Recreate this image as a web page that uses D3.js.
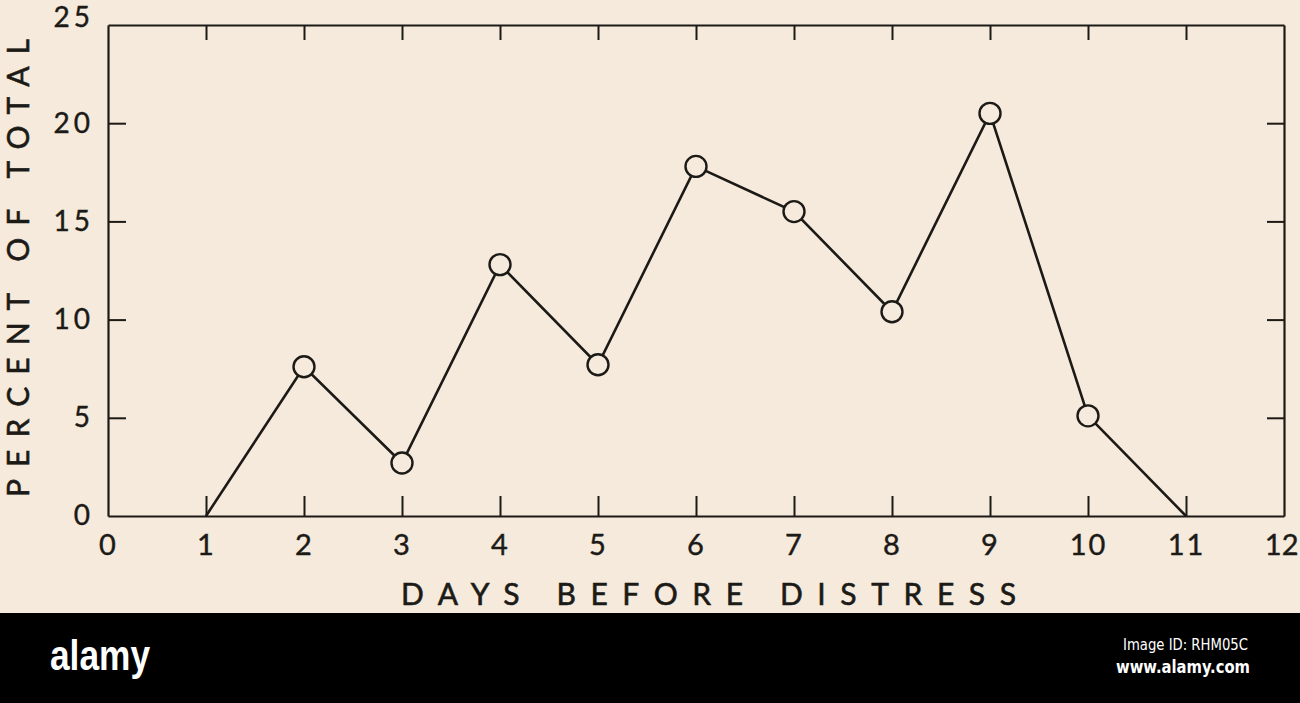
<!DOCTYPE html>
<html>
<head>
<meta charset="utf-8">
<script src="https://cdn.jsdelivr.net/npm/d3@7"></script>
<style>
  html, body { margin: 0; padding: 0; background: #f5eadb; }
  svg { display: block; }
</style>
</head>
<body>
<script>
// ---- data ----
const days = [1, 2, 3, 4, 5, 6, 7, 8, 9, 10, 11];
const percentOfTotal = [0, 7.6, 2.7, 12.8, 7.7, 17.8, 15.5, 10.4, 20.5, 5.1, 0];
const xTicks = [0, 1, 2, 3, 4, 5, 6, 7, 8, 9, 10, 11, 12];
const yTicks = [0, 5, 10, 15, 20, 25];
const xTitle = "DAYS BEFORE DISTRESS";
const yTitle = "PERCENT OF TOTAL";

(function () {
const W = 1300, H = 703;
const ink = "#1c1a17";
const bg = "#f5eadb";
const font = "Lato, 'DejaVu Sans', sans-serif";

const svg = d3.select("body").append("svg").attr("width", W).attr("height", H);
svg.append("rect").attr("width", W).attr("height", H).attr("fill", bg);

const mLeft = 108, mRight = 1284, mTop = 25, mBottom = 516;
const x = d3.scaleLinear().domain([0, 12]).range([mLeft, mRight]);
const y = d3.scaleLinear().domain([0, 25]).range([mBottom, mTop]);

function styleAxis(g, fs) {
  g.selectAll("path.domain").attr("stroke", ink).attr("stroke-width", 2.2);
  g.selectAll(".tick line").attr("stroke", ink).attr("stroke-width", 2);
  g.selectAll(".tick text").attr("fill", ink)
    .attr("stroke", ink).attr("stroke-width", 0.4)
    .style("font-family", font)
    .style("font-size", fs + "px").style("font-weight", 400);
}

// bottom axis with labels
const gB = svg.append("g").attr("transform", `translate(0,${mBottom})`)
  .call(d3.axisBottom(x).tickValues(xTicks).tickSizeInner(-20).tickSizeOuter(0)
    .tickPadding(18).tickFormat(d3.format("d")));
styleAxis(gB, 29);
gB.selectAll(".tick line").filter(d => d === 0 || d === 12).remove();
gB.selectAll(".tick text").style("letter-spacing", "2px");
gB.selectAll(".tick text").filter(d => d === 12).style("letter-spacing", "0px").attr("text-anchor", "end").attr("x", 14);

// top axis (ticks only)
const gT = svg.append("g").attr("transform", `translate(0,${mTop})`)
  .call(d3.axisTop(x).tickValues(xTicks.slice(1, -1)).tickSizeInner(-15).tickSizeOuter(0).tickFormat(""));
styleAxis(gT, 0);

// left axis with labels
const gL = svg.append("g").attr("transform", `translate(${mLeft},0)`)
  .call(d3.axisLeft(y).tickValues(yTicks).tickSizeInner(-18).tickSizeOuter(0)
    .tickPadding(14).tickFormat(d3.format("d")));
styleAxis(gL, 28);
gL.selectAll(".tick line").filter(d => d === 0 || d === 25).remove();
gL.selectAll(".tick text").style("letter-spacing", "4px");
gL.selectAll(".tick text").filter(d => d === 25).attr("dy", "0.05em");

// right axis (ticks only)
const gR = svg.append("g").attr("transform", `translate(${mRight},0)`)
  .call(d3.axisRight(y).tickValues(yTicks.slice(1, -1)).tickSizeInner(-17).tickSizeOuter(0).tickFormat(""));
styleAxis(gR, 0);

// axis titles
svg.append("text")
  .attr("x", 401).attr("y", 605).attr("text-anchor", "start")
  .attr("textLength", 615).attr("lengthAdjust", "spacing")
  .attr("fill", ink).attr("stroke", ink).attr("stroke-width", 0.6)
  .style("font-family", font)
  .style("font-size", "30px")
  .text(xTitle);

svg.append("text")
  .attr("transform", "translate(29,497) rotate(-90)")
  .attr("text-anchor", "start")
  .attr("textLength", 458).attr("lengthAdjust", "spacing")
  .attr("fill", ink).attr("stroke", ink).attr("stroke-width", 0.6)
  .style("font-family", font)
  .style("font-size", "30px")
  .text(yTitle);

// line + points
const pts = days.map((d, i) => ({ d, v: percentOfTotal[i] }));
svg.append("path").datum(pts)
  .attr("fill", "none").attr("stroke", ink).attr("stroke-width", 2.6)
  .attr("d", d3.line().x(p => x(p.d)).y(p => y(p.v)));

svg.selectAll("circle.pt").data(pts.filter(p => p.v > 0)).enter().append("circle")
  .attr("class", "pt")
  .attr("cx", p => x(p.d)).attr("cy", p => y(p.v)).attr("r", 10.5)
  .attr("fill", bg).attr("stroke", ink).attr("stroke-width", 2.4);

// bottom banner
const cond = "'Liberation Sans Narrow', 'DejaVu Sans Condensed', 'DejaVu Sans', sans-serif";
svg.append("rect").attr("x", 0).attr("y", 613).attr("width", W).attr("height", H - 613).attr("fill", "#000");
svg.append("text").attr("x", 50).attr("y", 670)
  .attr("textLength", 100).attr("lengthAdjust", "spacingAndGlyphs")
  .attr("fill", "#fff")
  .style("font-family", "'Liberation Sans', sans-serif")
  .style("font-size", "43px").style("font-weight", 700)
  .text("alamy");
svg.append("text").attr("x", 1123).attr("y", 650)
  .attr("textLength", 125).attr("lengthAdjust", "spacingAndGlyphs")
  .attr("fill", "#fff")
  .style("font-family", cond)
  .style("font-size", "15px")
  .text("Image ID: RHM05C");
svg.append("text").attr("x", 1116).attr("y", 673)
  .attr("textLength", 134).attr("lengthAdjust", "spacingAndGlyphs")
  .attr("fill", "#fff")
  .style("font-family", cond)
  .style("font-size", "18px").style("font-weight", 700)
  .text("www.alamy.com");
})();
</script>
</body>
</html>
